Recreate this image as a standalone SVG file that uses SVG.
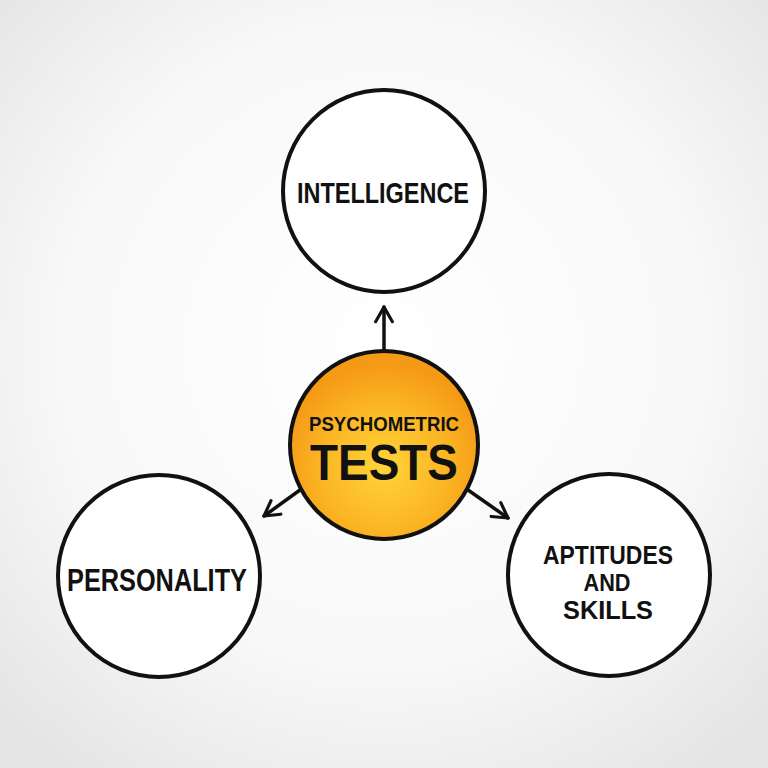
<svg xmlns="http://www.w3.org/2000/svg" width="768" height="768" viewBox="0 0 768 768">
<defs>
<radialGradient id="bg" cx="50%" cy="45%" r="70%">
<stop offset="0" stop-color="#ffffff"/>
<stop offset="0.6" stop-color="#f8f8f8"/>
<stop offset="1" stop-color="#e4e4e4"/>
</radialGradient>
<radialGradient id="og" cx="50%" cy="62%" r="55%">
<stop offset="0" stop-color="#ffd43a"/>
<stop offset="0.6" stop-color="#fbb624"/>
<stop offset="1" stop-color="#f59a16"/>
</radialGradient>
<marker id="ah" viewBox="0 0 10 10" refX="8" refY="5" markerWidth="6" markerHeight="6" orient="auto" markerUnits="strokeWidth">
<path d="M1,1 L8,5 L1,9" fill="none" stroke="#111" stroke-width="1.5" stroke-linecap="round" stroke-linejoin="round"/>
</marker>
<style>
.c{fill:#fff;stroke:#111;stroke-width:4}
.t{font-family:"Liberation Sans Narrow","Liberation Sans",Arial,sans-serif;font-weight:bold;fill:#111;text-anchor:middle}
.l{stroke:#111;stroke-width:3.5;fill:none;stroke-linecap:round}
</style>
</defs>
<rect width="768" height="768" fill="url(#bg)"/>
<g id="connectors">
<line class="l" x1="384" y1="352" x2="384" y2="307" marker-end="url(#ah)"/>
<line class="l" x1="300" y1="490" x2="264" y2="516" marker-end="url(#ah)"/>
<line class="l" x1="468" y1="490" x2="508" y2="518" marker-end="url(#ah)"/>
</g>
<g id="intelligence">
<circle class="c" cx="384" cy="191" r="101"/>
<text class="t" x="383" y="203" font-size="30" textLength="172" lengthAdjust="spacingAndGlyphs">INTELLIGENCE</text>
</g>
<g id="center">
<circle cx="384" cy="445" r="94" fill="url(#og)" stroke="#111" stroke-width="4"/>
<text class="t" x="384" y="431" font-size="20" textLength="150" lengthAdjust="spacingAndGlyphs">PSYCHOMETRIC</text>
<text class="t" x="384" y="480" font-size="50" textLength="148" lengthAdjust="spacingAndGlyphs">TESTS</text>
</g>
<g id="personality">
<circle class="c" cx="159" cy="576" r="101"/>
<text class="t" x="157" y="591" font-size="31" textLength="180" lengthAdjust="spacingAndGlyphs">PERSONALITY</text>
</g>
<g id="aptitudes">
<circle class="c" cx="609" cy="575" r="101"/>
<text class="t" x="608" y="564" font-size="26" textLength="130" lengthAdjust="spacingAndGlyphs">APTITUDES</text>
<text class="t" x="607" y="591" font-size="24" textLength="47" lengthAdjust="spacingAndGlyphs">AND</text>
<text class="t" x="608" y="619" font-size="26" textLength="90" lengthAdjust="spacingAndGlyphs">SKILLS</text>
</g>
</svg>
